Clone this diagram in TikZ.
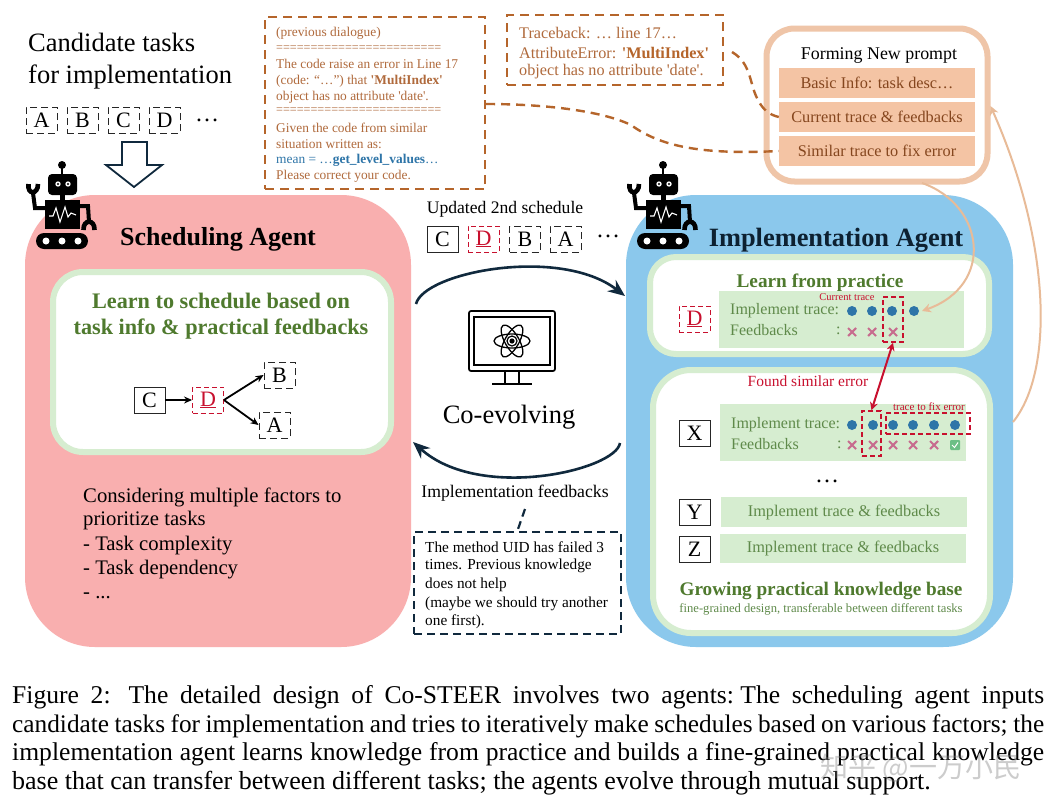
\documentclass[tikz,border=0pt]{standalone}
\usepackage{fontspec}
\setmainfont{Liberation Serif}
\newfontfamily\cjkwm{Noto Sans CJK SC}
\usetikzlibrary{arrows.meta}
\definecolor{pinkp}{HTML}{F9AFAF}
\definecolor{bluep}{HTML}{8BC8EC}
\definecolor{mint}{HTML}{D6EDD0}
\definecolor{leaf}{HTML}{4F7A2E}
\definecolor{leaft}{HTML}{5F8A4A}
\definecolor{peach}{HTML}{EFC5A8}
\definecolor{peachr}{HTML}{F4C4A4}
\definecolor{rust}{HTML}{B5652B}
\definecolor{ruskt}{HTML}{B06A3C}
\definecolor{brownt}{HTML}{85461E}
\definecolor{navy}{HTML}{10293D}
\definecolor{redd}{HTML}{C8102E}
\definecolor{dotb}{HTML}{2E75A8}
\definecolor{crossp}{HTML}{C76C8E}
\definecolor{okg}{HTML}{6CBF86}
\newcommand{\fs}[1]{\fontsize{#1}{#1}\selectfont}
\newcommand{\sq}{\textquotesingle}
\tikzset{
  panel/.style={draw=none,inner sep=0,rounded corners=70pt},
  inner panel/.style={draw=mint,line width=6pt,fill=white,inner sep=0},
  strip/.style={fill=mint,inner sep=0},
  prow/.style={fill=peachr,inner sep=0,minimum width=196pt,minimum height=30pt,text=brownt,font=\fs{16.3}},
  task/.style={draw=black!85,line width=.9pt,inner sep=0,minimum width=31pt,minimum height=26pt,font=\fs{22}},
  taskd/.style={task,dash pattern=on 7pt off 4pt},
  taskr/.style={task,draw=redd,dash pattern=on 5pt off 3pt,text=redd},
  lbl/.style={inner sep=0,anchor=west,align=left,yshift=-2pt},
  ctr/.style={inner sep=0,yshift=-2pt},
  rustd/.style={draw=rust,line width=2.4pt,dash pattern=on 9pt off 6pt},
  navyd/.style={draw=navy,line width=2.2pt,dash pattern=on 8pt off 5pt},
  redbox/.style={draw=redd,line width=1.5pt,dash pattern=on 5pt off 3pt},
  peacharc/.style={draw=peach!85!brown,line width=2pt,-{Stealth[length=9pt,width=9pt]}},
  coarc/.style={draw=navy,line width=2.6pt,-{Stealth[length=17pt,width=14pt]}},
  gr/.style={draw=black,line width=1.8pt,-{Stealth[length=8pt,width=7pt]}},
  rdot/.pic={\fill[dotb] (0,0) circle (5);},
  rcross/.pic={\draw[crossp,line width=2.1pt] (-4,-4) -- (4,4) (-4,4) -- (4,-4);},
  robot/.pic={
    \fill (62,165) circle (4);
    \draw[line width=2.2pt] (62,165) -- (62,176);
    \fill[rounded corners=4pt] (48,174) rectangle (77,195);
    \fill (60,195) rectangle (65,201);
    \fill[white] (58,184) circle (2.7) (68,184) circle (2.7);
    \fill (58,184) circle (1.2) (68,184) circle (1.2);
    \fill (45,200) rectangle (80,229);
    \draw[white,line width=1.1pt] (49,216) -- (53,216) -- (56,208) -- (60,222) -- (65,207) -- (68,217) -- (71,213) -- (76,215);
    \draw[line width=4pt] (45,208) -- (35,208) -- (33,193);
    \draw[line width=4.6pt] (28.5,184) .. controls (27,195) and (38,195) .. (38,184);
    \draw[line width=4pt] (80,206) -- (88,206) -- (89,222);
    \draw[line width=4.6pt] (83.5,230) .. controls (83,219) and (95,219) .. (94.5,230);
    \fill[rounded corners=8pt] (36,233) rectangle (88,249);
    \fill[white] (46,241) circle (3.5) (62,241) circle (3.5) (78,241) circle (3.5);
  }
}
\begin{document}
\begin{tikzpicture}[x=1pt,y=-1pt]
\useasboundingbox[fill=white] (0,0) rectangle (1062,806);

% main panels
\node[panel,fill=pinkp,minimum width=386pt,minimum height=452pt] (sched) at (218,421) {};
\node[panel,fill=bluep,minimum width=387pt,minimum height=452pt] (impl) at (819.5,421) {};
\node[inner panel,rounded corners=30pt,minimum width=338pt,minimum height=180pt] (learn) at (222,362) {};
\node[inner panel,rounded corners=26pt,minimum width=339pt,minimum height=97pt] (prac) at (819.5,305.5) {};
\node[inner panel,rounded corners=38pt,minimum width=337pt,minimum height=263pt] (base) at (821.5,501.5) {};

% candidate tasks
\node[lbl,font=\fs{26.5}] (cand1) at (28,40) {Candidate tasks};
\node[lbl,font=\fs{26.5}] (cand2) at (28,75) {for implementation};
\node[taskd] (ca) at (41.5,120) {A};
\node[taskd] (cb) at (82.5,120) {B};
\node[taskd] (cc) at (123.5,120) {C};
\node[taskd] (cd) at (164.5,120) {D};
\node[ctr,font=\fs{24}] (cdots) at (207,118) {…};
\draw[navy,line width=1.8pt,line join=miter] (122,142) -- (147,142) -- (147,165) -- (162,165) -- (134,187) -- (106,165) -- (122,165) -- cycle;

% robots
\pic at (0,0) {robot};
\pic at (601,0) {robot};
\node[ctr,font=\fs{26}\bfseries] (schedt) at (218,237) {Scheduling Agent};
\node[ctr,font=\fs{26.4}\bfseries,text=navy!80!black] (implt) at (836,238) {Implementation Agent};

% learn to schedule
\node[ctr,font=\fs{22.2}\bfseries,text=leaf] (ls1) at (221,299) {Learn to schedule based on};
\node[ctr,font=\fs{22.2}\bfseries,text=leaf] (ls2) at (221,327) {task info \& practical feedbacks};
\node[task] (gc) at (149.5,400) {C};
\node[taskr] (gd) at (208,400) {\underline{D}};
\node[taskd] (gb) at (279.5,375) {B};
\node[taskd] (ga) at (274.5,425) {A};
\draw[gr] (gc.east) -- (gd.west);
\draw[gr] (gd.east) -- (gb.west);
\draw[gr] (gd.east) -- (ga.west);

% factors
\node[lbl,font=\fs{20.7}] (f1) at (83,495) {Considering multiple factors to};
\node[lbl,font=\fs{20.7}] (f2) at (83,519) {prioritize tasks};
\node[lbl,font=\fs{20.7}] (f3) at (83,544) {- Task complexity};
\node[lbl,font=\fs{20.7}] (f4) at (83,568) {- Task dependency};
\node[lbl,font=\fs{20.7}] (f5) at (83,594) {- ...};

% dialogue box
\node[rustd,inner sep=0,minimum width=220pt,minimum height=172pt] (dlg) at (375,103) {};
\begin{scope}[every node/.style={lbl,font=\fs{13.4},text=ruskt}]
\node (d1) at (276,31) {(previous dialogue)};
\node (d2) at (276,47) {\fs{12.2}========================};
\node (d3) at (276,62) {The code raise an error in Line 17};
\node (d4) at (276,79) {(code: “…”) that \textbf{\sq MultiIndex\sq}};
\node (d5) at (276,95) {object has no attribute \sq date\sq.};
\node (d6) at (276,109) {\fs{12.2}========================};
\node (d7) at (276,126) {Given the code from similar};
\node (d8) at (276,142) {situation written as:};
\node[text=dotb] (d9) at (276,158) {mean = …\textbf{get\_level\_values}…};
\node (d10) at (276,174) {Please correct your code.};
\end{scope}

% traceback box
\node[rustd,inner sep=0,minimum width=216pt,minimum height=70pt] (tb) at (615,50) {};
\begin{scope}[every node/.style={lbl,font=\fs{16.2},text=ruskt}]
\node (t1) at (519,31) {Traceback: … line 17…};
\node (t2) at (519,51) {AttributeError: \textbf{\textcolor{rust}{\sq MultiIndex\sq}}};
\node (t3) at (519,70) {object has no attribute \sq date\sq.};
\end{scope}

% new prompt box
\node[draw=peach,line width=6pt,fill=white,rounded corners=28pt,inner sep=0,minimum width=221pt,minimum height=153pt] (prompt) at (877,105) {};
\node[ctr,font=\fs{17.9}] (pt) at (879,54) {Forming New prompt};
\node[prow] (p1) at (877,83) {\raisebox{-1pt}{Basic Info: task desc…}};
\node[prow] (p2) at (877,117) {\raisebox{-1pt}{Current trace \& feedbacks}};
\node[prow] (p3) at (877,151) {\raisebox{-1pt}{Similar trace to fix error}};

\coordinate (c1) at (732,52);
\draw[rustd] (c1) .. controls (752,64) and (749,84) .. (758,100) .. controls (763,110) and (770,115) .. (p2.west);
\draw[rustd] (dlg.east |- 0,104) .. controls (540,104) and (600,110) .. (631,125) .. controls (660,146) and (700,155) .. (p3.west);

% updated schedule
\node[ctr,font=\fs{17.6}] (upd) at (505,207) {Updated 2nd schedule};
\node[task] (uc) at (442.5,239) {C};
\node[taskr] (ud) at (483.5,239) {\underline{D}};
\node[taskd] (ub) at (525,239) {B};
\node[taskd] (ua) at (565.5,239) {A};
\node[ctr,font=\fs{24}] (udots) at (608,234) {…};

% co-evolving
\coordinate (ct1) at (416,304);
\coordinate (ct2) at (625,296);
\coordinate (cb1) at (620,443);
\coordinate (cb2) at (413,442);
\draw[coarc] (ct1) .. controls (424,272) and (560,246) .. (ct2);
\draw[coarc] (cb1) .. controls (616,470) and (480,502) .. (cb2);
\draw[black,line width=1.7pt,rounded corners=2pt] (469,311) rectangle (555,371);
\draw[black,line width=1.7pt] (474,317) rectangle (550,365);
\draw[black,line width=1.5pt] (505,371) -- (505,384) (519,371) -- (519,384) (492,384) -- (532,384);
\foreach \a in {0,60,120}{\draw[black,line width=1.3pt,rotate around={\a:(512,341)}] (512,341) ellipse (18 and 7);}
\fill[black] (512,341) circle (2.6);
\draw[black,line width=1.2pt] (512,341) circle (5);
\node[ctr,font=\fs{26.5}] (co) at (509,415) {Co-evolving};
\node[ctr,font=\fs{17.7}] (ifb) at (515,491) {Implementation feedbacks};

% feedback box
\node[navyd,inner sep=0,minimum width=207pt,minimum height=102pt] (fb) at (517.5,583) {};
\coordinate (fbt) at (525,509);
\draw[navyd] (fbt) -- (517,532);
\begin{scope}[every node/.style={lbl,font=\fs{15.3}}]
\node (b1) at (425,545) {The method UID has failed 3};
\node (b2) at (425,564) {times. Previous knowledge};
\node (b3) at (425,583) {does not help};
\node (b4) at (425,602) {(maybe we should try another};
\node (b5) at (425,620) {one first).};
\end{scope}

% learn from practice
\node[ctr,font=\fs{19.3}\bfseries,text=leaf] (lfp) at (820,281) {Learn from practice};
\node[strip,minimum width=245pt,minimum height=57pt] (s1) at (841.5,319.5) {};
\node[taskr] (pd) at (694.5,319) {\underline{D}};
\node[lbl,font=\fs{16},text=leaft] (i1) at (730,309) {Implement trace:};
\node[lbl,font=\fs{16},text=leaft] (fb1) at (730,328) {Feedbacks};
\node[lbl,font=\fs{16},text=leaft] (cl1) at (836,329) {:};
\node[ctr,font=\fs{10.5},text=redd] (cur) at (847,295) {Current trace};
\foreach \x in {852,872,892,914}{\pic at (\x,311) {rdot};}
\foreach \x in {852,872,893}{\pic at (\x,332) {rcross};}
\node[redbox,inner sep=0,minimum width=20pt,minimum height=45pt] (curb) at (893,319.5) {};

% knowledge base
\node[ctr,font=\fs{15.5},text=redd] (fse) at (808,379) {Found similar error};
\node[strip,minimum width=246pt,minimum height=57pt] (s2) at (843,432.5) {};
\node[task] (px) at (694.5,433) {X};
\node[lbl,font=\fs{16},text=leaft] (i2) at (731,423) {Implement trace:};
\node[lbl,font=\fs{16},text=leaft] (fb2) at (731,442) {Feedbacks};
\node[lbl,font=\fs{16},text=leaft] (cl2) at (837,443) {:};
\node[ctr,font=\fs{11},text=redd] (tfe) at (929,405) {trace to fix error};
\foreach \x in {852,873,893,913,934,955}{\pic at (\x,425) {rdot};}
\foreach \x in {852,873,893,913,934}{\pic at (\x,445) {rcross};}
\fill[okg,rounded corners=1pt] (950,440) rectangle (960,450);
\draw[white,line width=1pt] (952,445) -- (954.5,447.5) -- (958,442.5);
\node[redbox,inner sep=0,minimum width=19pt,minimum height=45pt] (simb) at (871.5,433.5) {};
\node[redbox,inner sep=0,minimum width=84pt,minimum height=21pt] (fixb) at (928,423.5) {};
\draw[redd,line width=2pt,{Stealth[length=8pt,width=8pt]}-{Stealth[length=8pt,width=8pt]}] (curb.south) -- (simb.north);
\node[ctr,font=\fs{24}] (kdots) at (827,479) {…};
\node[task] (py) at (694.5,512) {Y};
\node[task] (pz) at (694.5,549) {Z};
\node[strip,minimum width=246pt,minimum height=30pt,text=leaft,font=\fs{16.3}] (s3) at (844,512) {\raisebox{-2pt}{Implement trace \& feedbacks}};
\node[strip,minimum width=246pt,minimum height=29pt,text=leaft,font=\fs{16.3}] (s4) at (843,548.5) {\raisebox{-2pt}{Implement trace \& feedbacks}};
\node[ctr,font=\fs{19.2}\bfseries,text=leaf] (gk) at (821,589) {Growing practical knowledge base};
\node[ctr,font=\fs{12.6},text=leaft] (gs) at (821,607) {fine-grained design, transferable between different tasks};

% peach arcs
\coordinate (ar1) at (922,183);
\coordinate (ar3) at (1013,422);
\draw[peacharc] (ar1) .. controls (985,205) and (995,285) .. (922,311);
\draw[peacharc] (ar3) .. controls (1055,370) and (1050,240) .. (prompt.east |- 0,106);

% caption
\node[lbl,font=\fs{25.6}] (cap1) at (12,695) {\hbox to 1032pt{Figure 2:\hspace{.7em}The detailed design of Co-STEER involves two agents:\hspace{.25em}The scheduling agent inputs}};
\node[lbl,font=\fs{25.3}] (cap2) at (12,724) {\hbox to 1032pt{candidate tasks for implementation and tries to iteratively make schedules based on various factors; the}};
\node[lbl,font=\fs{25.6}] (cap3) at (12,752) {\hbox to 1032pt{implementation agent learns knowledge from practice and builds a fine-grained practical knowledge}};
\node[lbl,font=\fs{26}] (cap4) at (12,781) {base that can transfer between different tasks; the agents evolve through mutual support.};
\node[ctr,font={\cjkwm\fs{28}},text=gray,opacity=.4] (wm) at (921,766) {知乎 @一万小民};
\end{tikzpicture}
\end{document}
